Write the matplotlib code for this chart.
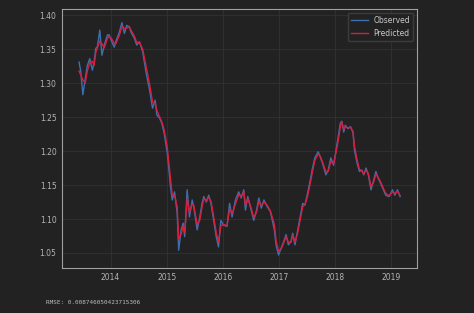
import pandas as pd
import matplotlib
matplotlib.use('Agg')
import matplotlib.pyplot as plt
import matplotlib.dates as mdates

# weekly-ish EUR/USD style series
dates = ['2013-06-10', '2013-06-21', '2013-07-05', '2013-07-20', '2013-08-03', '2013-08-19',
         '2013-09-05', '2013-09-16', '2013-09-27', '2013-10-08', '2013-10-23', '2013-11-06',
         '2013-11-21', '2013-12-12', '2013-12-23', '2014-01-09', '2014-01-25', '2014-02-04',
         '2014-02-27', '2014-03-16', '2014-04-01', '2014-04-16', '2014-05-03', '2014-05-14',
         '2014-06-05', '2014-06-20', '2014-07-08', '2014-07-29', '2014-08-19', '2014-09-14',
         '2014-10-01', '2014-10-18', '2014-10-29', '2014-11-17', '2014-11-30', '2014-12-15',
         '2015-01-05', '2015-01-26', '2015-02-06', '2015-02-21', '2015-03-10', '2015-03-20',
         '2015-04-05', '2015-04-18', '2015-04-28', '2015-05-14', '2015-05-29', '2015-06-16',
         '2015-06-26', '2015-07-18', '2015-08-04', '2015-08-19', '2015-08-30', '2015-09-16',
         '2015-10-01', '2015-10-16', '2015-11-02', '2015-11-19', '2015-12-04', '2015-12-19',
         '2016-01-06', '2016-01-28', '2016-02-14', '2016-03-01', '2016-03-23', '2016-04-13',
         '2016-04-29', '2016-05-16', '2016-05-27', '2016-06-11', '2016-06-28', '2016-07-20',
         '2016-08-07', '2016-08-22', '2016-09-07', '2016-09-24', '2016-10-16', '2016-11-05',
         '2016-12-01', '2016-12-12', '2016-12-28', '2017-01-14', '2017-01-31', '2017-02-15',
         '2017-03-02', '2017-03-19', '2017-03-30', '2017-04-14', '2017-05-02', '2017-05-18',
         '2017-06-03', '2017-06-18', '2017-07-05', '2017-07-22', '2017-08-06', '2017-08-21',
         '2017-09-12', '2017-09-24', '2017-10-10', '2017-11-01', '2017-11-16', '2017-12-03',
         '2017-12-21', '2018-01-16', '2018-02-03', '2018-02-12', '2018-02-25', '2018-03-07',
         '2018-03-24', '2018-04-10', '2018-04-26', '2018-05-06', '2018-05-23', '2018-06-07',
         '2018-06-23', '2018-07-05', '2018-07-20', '2018-08-04', '2018-08-21', '2018-09-07',
         '2018-09-22', '2018-10-07', '2018-10-24', '2018-11-10', '2018-11-25', '2018-12-17',
         '2019-01-08', '2019-01-23', '2019-02-09', '2019-02-26']

observed = [1.331, 1.318, 1.283, 1.305, 1.326, 1.336, 1.319, 1.331, 1.351, 1.354, 1.378, 1.341,
            1.356, 1.371, 1.371, 1.361, 1.353, 1.361, 1.375, 1.389, 1.373, 1.385, 1.383, 1.375,
            1.366, 1.356, 1.361, 1.346, 1.317, 1.287, 1.263, 1.275, 1.253, 1.248, 1.241, 1.227,
            1.197, 1.147, 1.128, 1.140, 1.109, 1.054, 1.084, 1.094, 1.074, 1.143, 1.103, 1.128,
            1.118, 1.084, 1.103, 1.123, 1.133, 1.125, 1.135, 1.123, 1.098, 1.074, 1.059, 1.098,
            1.091, 1.089, 1.123, 1.103, 1.128, 1.140, 1.131, 1.143, 1.113, 1.133, 1.118, 1.098,
            1.113, 1.131, 1.116, 1.128, 1.118, 1.111, 1.084, 1.062, 1.047, 1.057, 1.067, 1.077,
            1.062, 1.067, 1.079, 1.062, 1.084, 1.103, 1.123, 1.121, 1.138, 1.157, 1.175, 1.190,
            1.199, 1.192, 1.182, 1.165, 1.172, 1.190, 1.179, 1.216, 1.241, 1.244, 1.228, 1.238,
            1.233, 1.236, 1.227, 1.201, 1.182, 1.170, 1.172, 1.165, 1.175, 1.165, 1.143, 1.157,
            1.170, 1.160, 1.152, 1.143, 1.135, 1.133, 1.143, 1.135, 1.143, 1.133]

predicted = [1.318, 1.312, 1.305, 1.300, 1.318, 1.330, 1.332, 1.326, 1.345, 1.352, 1.362, 1.358,
             1.352, 1.366, 1.369, 1.365, 1.358, 1.358, 1.370, 1.384, 1.380, 1.381, 1.383, 1.378,
             1.369, 1.360, 1.360, 1.350, 1.326, 1.296, 1.272, 1.270, 1.260, 1.250, 1.243, 1.232,
             1.205, 1.160, 1.135, 1.135, 1.118, 1.070, 1.078, 1.090, 1.080, 1.130, 1.110, 1.122,
             1.120, 1.092, 1.098, 1.118, 1.130, 1.127, 1.132, 1.126, 1.104, 1.080, 1.066, 1.090,
             1.092, 1.090, 1.115, 1.108, 1.122, 1.136, 1.133, 1.140, 1.120, 1.130, 1.120, 1.102,
             1.110, 1.126, 1.120, 1.125, 1.120, 1.112, 1.092, 1.068, 1.053, 1.056, 1.065, 1.074,
             1.066, 1.066, 1.076, 1.066, 1.080, 1.099, 1.118, 1.121, 1.134, 1.152, 1.170, 1.186,
             1.196, 1.193, 1.184, 1.169, 1.170, 1.185, 1.181, 1.210, 1.236, 1.243, 1.232, 1.236,
             1.234, 1.235, 1.229, 1.207, 1.187, 1.173, 1.171, 1.166, 1.172, 1.167, 1.148, 1.154,
             1.166, 1.161, 1.154, 1.145, 1.138, 1.134, 1.140, 1.137, 1.141, 1.135]

rmse_text = 'RMSE: 0.008746050423715306'

df = pd.DataFrame({'Date': pd.to_datetime(dates), 'Observed': observed, 'Predicted': predicted})

bg = '#222222'
fig = plt.figure(figsize=(4.74, 3.13), dpi=100, facecolor=bg)
ax = fig.add_axes([0.131, 0.144, 0.749, 0.827], facecolor=bg)

ax.plot(df['Date'], df['Observed'], color='#3d6fb0', lw=1.0, label='Observed')
ax.plot(df['Date'], df['Predicted'], color='#d81e3c', lw=1.0, label='Predicted')

ax.set_xlim(pd.Timestamp('2013-02-20'), pd.Timestamp('2019-06-17'))
ax.set_ylim(1.028, 1.409)
ax.set_yticks([1.05, 1.10, 1.15, 1.20, 1.25, 1.30, 1.35, 1.40])
ax.xaxis.set_major_locator(mdates.YearLocator())
ax.xaxis.set_major_formatter(mdates.DateFormatter('%Y'))

ax.grid(color='#323232', lw=0.6)
ax.tick_params(colors='#b5b5b5', labelsize=5.5, length=0, pad=4)
for s in ax.spines.values():
    s.set_color('#a0a0a0')
    s.set_linewidth(0.8)

leg = ax.legend(loc='upper right', fontsize=5.5, facecolor=bg, edgecolor='#3c3c3c',
                labelcolor='#c8c8c8', handlelength=2.2, borderpad=0.4, framealpha=1)

fig.text(0.097, 0.03, rmse_text, fontsize=4.3, family='DejaVu Sans Mono', color='#bbbbbb')

fig.savefig('out.png', dpi=100, facecolor=bg)
